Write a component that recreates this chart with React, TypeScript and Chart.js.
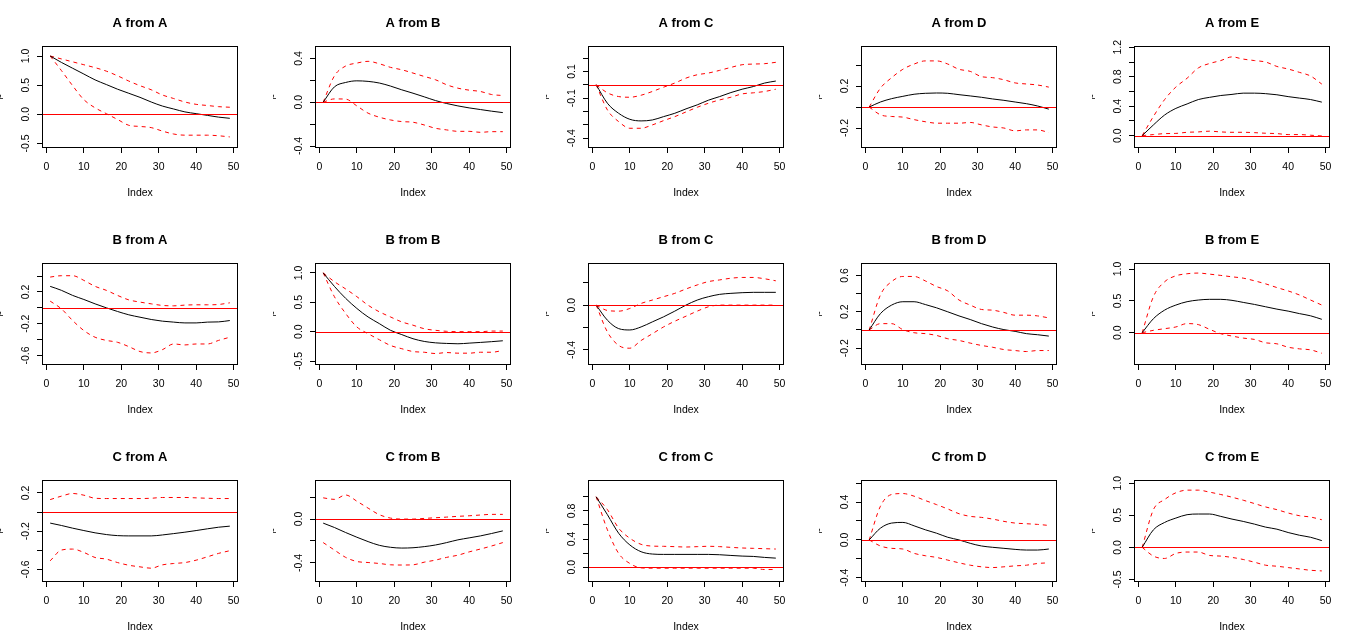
import { useEffect, useRef } from "react";
import { Chart, registerables } from "chart.js";

Chart.register(...registerables);

// Horizons at which the impulse responses are sampled
const LAGS = [1, 4, 7, 10, 13, 16, 19, 22, 25, 28, 31, 34, 37, 40, 43, 46, 49];
const X_TICKS = [0, 10, 20, 30, 40, 50];
const X_MIN = -0.92;
const X_MAX = 50.92;
const REFERENCE_LEVEL = 0;

// ---- Response of A ----
const IRF_A_A = [1.0, 0.89, 0.79, 0.69, 0.59, 0.51, 0.43, 0.36, 0.29, 0.21, 0.14, 0.09, 0.04, 0.01, -0.02, -0.05, -0.07];
const UPPER_A_A = [1.0, 0.95, 0.9, 0.85, 0.8, 0.74, 0.66, 0.57, 0.49, 0.42, 0.33, 0.27, 0.21, 0.17, 0.15, 0.13, 0.12];
const LOWER_A_A = [1.0, 0.75, 0.49, 0.25, 0.11, 0.01, -0.09, -0.19, -0.21, -0.23, -0.29, -0.34, -0.36, -0.36, -0.36, -0.37, -0.39];
const YLIM_A_A = [-0.563, 1.172];
const YTICKS_A_A = [-0.5, 0, 0.5, 1.0];
const YLABELS_A_A = ["-0.5", "0.0", "0.5", "1.0"];

const IRF_A_B = [0.0, 0.14, 0.18, 0.195, 0.19, 0.175, 0.147, 0.113, 0.082, 0.049, 0.015, -0.012, -0.034, -0.052, -0.067, -0.082, -0.095];
const UPPER_A_B = [0.0, 0.24, 0.33, 0.357, 0.373, 0.351, 0.318, 0.296, 0.266, 0.235, 0.205, 0.159, 0.128, 0.11, 0.098, 0.07, 0.061];
const LOWER_A_B = [0.0, 0.03, 0.028, -0.034, -0.1, -0.137, -0.162, -0.177, -0.183, -0.208, -0.238, -0.253, -0.266, -0.266, -0.275, -0.269, -0.269];
const YLIM_A_B = [-0.409, 0.513];
const YTICKS_A_B = [-0.4, -0.2, 0, 0.2, 0.4];
const YLABELS_A_B = ["-0.4", "", "0.0", "", "0.4"];

const IRF_A_C = [0.0, -0.138, -0.213, -0.258, -0.27, -0.263, -0.238, -0.213, -0.18, -0.15, -0.115, -0.088, -0.058, -0.033, -0.013, 0.013, 0.028];
const UPPER_A_C = [0.0, -0.06, -0.088, -0.093, -0.078, -0.05, -0.018, 0.013, 0.05, 0.075, 0.088, 0.108, 0.13, 0.15, 0.155, 0.158, 0.168];
const LOWER_A_C = [0.0, -0.188, -0.275, -0.325, -0.325, -0.3, -0.268, -0.238, -0.203, -0.168, -0.138, -0.113, -0.093, -0.068, -0.06, -0.05, -0.033];
const YLIM_A_C = [-0.465, 0.29];
const YTICKS_A_C = [-0.4, -0.3, -0.2, -0.1, 0, 0.1, 0.2];
const YLABELS_A_C = ["-0.4", "", "", "-0.1", "", "0.1", ""];

const IRF_A_D = [0.0, 0.048, 0.08, 0.102, 0.122, 0.131, 0.134, 0.131, 0.118, 0.106, 0.093, 0.077, 0.064, 0.048, 0.032, 0.01, -0.02];
const UPPER_A_D = [0.0, 0.18, 0.28, 0.36, 0.41, 0.44, 0.44, 0.41, 0.36, 0.34, 0.29, 0.28, 0.26, 0.23, 0.22, 0.21, 0.19];
const LOWER_A_D = [0.0, -0.074, -0.09, -0.096, -0.12, -0.14, -0.154, -0.154, -0.154, -0.147, -0.17, -0.19, -0.2, -0.227, -0.218, -0.218, -0.243];
const YLIM_A_D = [-0.381, 0.582];
const YTICKS_A_D = [-0.2, 0, 0.2, 0.4];
const YLABELS_A_D = ["-0.2", "", "0.2", ""];

const IRF_A_E = [0.0, 0.145, 0.28, 0.37, 0.43, 0.49, 0.52, 0.545, 0.56, 0.577, 0.577, 0.57, 0.555, 0.53, 0.51, 0.49, 0.455];
const UPPER_A_E = [0.0, 0.26, 0.49, 0.66, 0.78, 0.92, 0.98, 1.02, 1.07, 1.04, 1.02, 1.0, 0.94, 0.905, 0.86, 0.81, 0.7];
const LOWER_A_E = [0.0, 0.014, 0.027, 0.03, 0.045, 0.05, 0.06, 0.05, 0.045, 0.045, 0.04, 0.032, 0.027, 0.014, 0.014, 0.005, -0.005];
const YLIM_A_E = [-0.155, 1.218];
const YTICKS_A_E = [0, 0.2, 0.4, 0.6, 0.8, 1.0, 1.2];
const YLABELS_A_E = ["0.0", "", "0.4", "", "0.8", "", "1.2"];

// ---- Response of B ----
const IRF_B_A = [0.27, 0.22, 0.156, 0.105, 0.05, 0.0, -0.046, -0.088, -0.118, -0.147, -0.168, -0.18, -0.19, -0.19, -0.18, -0.177, -0.16];
const UPPER_B_A = [0.387, 0.404, 0.404, 0.345, 0.27, 0.22, 0.156, 0.1, 0.072, 0.05, 0.03, 0.025, 0.034, 0.038, 0.038, 0.042, 0.063];
const LOWER_B_A = [0.084, -0.013, -0.16, -0.286, -0.37, -0.41, -0.434, -0.488, -0.55, -0.568, -0.526, -0.455, -0.467, -0.455, -0.455, -0.41, -0.37];
const YLIM_B_A = [-0.707, 0.564];
const YTICKS_B_A = [-0.6, -0.4, -0.2, 0, 0.2, 0.4];
const YLABELS_B_A = ["-0.6", "", "-0.2", "", "0.2", ""];

const IRF_B_B = [1.0, 0.77, 0.567, 0.395, 0.25, 0.137, 0.023, -0.05, -0.12, -0.166, -0.19, -0.2, -0.206, -0.195, -0.183, -0.17, -0.155];
const UPPER_B_B = [1.0, 0.85, 0.727, 0.595, 0.45, 0.338, 0.25, 0.166, 0.11, 0.05, 0.023, 0.006, 0.0, 0.0, 0.0, 0.01, 0.01];
const LOWER_B_B = [1.0, 0.595, 0.31, 0.08, -0.034, -0.137, -0.235, -0.29, -0.338, -0.35, -0.372, -0.355, -0.366, -0.366, -0.35, -0.35, -0.32];
const YLIM_B_B = [-0.55, 1.168];
const YTICKS_B_B = [-0.5, 0, 0.5, 1.0];
const YLABELS_B_B = ["-0.5", "0.0", "0.5", "1.0"];

const IRF_B_C = [0.0, -0.135, -0.21, -0.222, -0.195, -0.15, -0.105, -0.054, 0.0, 0.045, 0.075, 0.096, 0.105, 0.111, 0.114, 0.114, 0.114];
const UPPER_B_C = [0.0, -0.048, -0.054, -0.03, 0.015, 0.045, 0.075, 0.105, 0.144, 0.18, 0.21, 0.225, 0.24, 0.247, 0.247, 0.235, 0.217];
const LOWER_B_C = [0.0, -0.24, -0.36, -0.385, -0.316, -0.256, -0.195, -0.144, -0.099, -0.054, -0.015, 0.0, 0.0, 0.0, 0.0, 0.0, 0.0];
const YLIM_B_C = [-0.526, 0.376];
const YTICKS_B_C = [-0.4, -0.2, 0, 0.2];
const YLABELS_B_C = ["-0.4", "", "0.0", ""];

const IRF_B_D = [0.0, 0.18, 0.274, 0.311, 0.311, 0.28, 0.244, 0.2, 0.155, 0.115, 0.07, 0.033, 0.004, -0.015, -0.04, -0.052, -0.067];
const UPPER_B_D = [0.0, 0.385, 0.533, 0.589, 0.589, 0.54, 0.478, 0.43, 0.33, 0.274, 0.226, 0.218, 0.193, 0.163, 0.163, 0.155, 0.133];
const LOWER_B_D = [0.0, 0.07, 0.07, 0.004, -0.03, -0.04, -0.06, -0.096, -0.115, -0.144, -0.17, -0.19, -0.215, -0.226, -0.237, -0.226, -0.226];
const YLIM_B_D = [-0.374, 0.737];
const YTICKS_B_D = [-0.2, 0, 0.2, 0.4, 0.6];
const YLABELS_B_D = ["-0.2", "", "0.2", "", "0.6"];

const IRF_B_E = [0.0, 0.22, 0.355, 0.434, 0.487, 0.513, 0.524, 0.524, 0.508, 0.476, 0.444, 0.407, 0.37, 0.339, 0.3, 0.265, 0.21];
const UPPER_B_E = [0.0, 0.566, 0.8, 0.894, 0.926, 0.937, 0.92, 0.9, 0.878, 0.857, 0.815, 0.767, 0.709, 0.656, 0.593, 0.513, 0.434];
const LOWER_B_E = [0.0, 0.037, 0.063, 0.09, 0.143, 0.127, 0.053, -0.016, -0.053, -0.085, -0.106, -0.159, -0.175, -0.228, -0.254, -0.27, -0.323];
const YLIM_B_E = [-0.492, 1.095];
const YTICKS_B_E = [0, 0.5, 1.0];
const YLABELS_B_E = ["0.0", "0.5", "1.0"];

// ---- Response of C ----
const IRF_C_A = [-0.116, -0.141, -0.169, -0.194, -0.218, -0.236, -0.247, -0.25, -0.25, -0.25, -0.24, -0.226, -0.211, -0.194, -0.176, -0.159, -0.148];
const UPPER_C_A = [0.13, 0.166, 0.194, 0.176, 0.144, 0.141, 0.141, 0.141, 0.141, 0.144, 0.152, 0.152, 0.152, 0.148, 0.144, 0.141, 0.141];
const LOWER_C_A = [-0.511, -0.398, -0.388, -0.423, -0.476, -0.493, -0.529, -0.557, -0.574, -0.588, -0.553, -0.539, -0.529, -0.504, -0.469, -0.433, -0.405];
const YLIM_C_A = [-0.722, 0.335];
const YTICKS_C_A = [-0.6, -0.4, -0.2, 0, 0.2];
const YLABELS_C_A = ["-0.6", "", "-0.2", "", "0.2"];

const IRF_C_B = [-0.037, -0.077, -0.123, -0.166, -0.206, -0.24, -0.258, -0.265, -0.262, -0.252, -0.237, -0.215, -0.19, -0.172, -0.154, -0.132, -0.108];
const UPPER_C_B = [0.194, 0.18, 0.22, 0.163, 0.1, 0.04, 0.009, 0.0, 0.0, 0.006, 0.012, 0.018, 0.025, 0.03, 0.037, 0.043, 0.043];
const LOWER_C_B = [-0.215, -0.283, -0.35, -0.388, -0.397, -0.406, -0.418, -0.42, -0.418, -0.394, -0.375, -0.35, -0.33, -0.3, -0.274, -0.246, -0.215];
const YLIM_C_B = [-0.566, 0.357];
const YTICKS_C_B = [-0.4, -0.2, 0, 0.2];
const YLABELS_C_B = ["-0.4", "", "0.0", ""];

const IRF_C_C = [1.0, 0.746, 0.483, 0.316, 0.22, 0.187, 0.182, 0.182, 0.182, 0.182, 0.182, 0.177, 0.167, 0.158, 0.153, 0.139, 0.129];
const UPPER_C_C = [1.0, 0.818, 0.555, 0.411, 0.325, 0.3, 0.297, 0.292, 0.287, 0.292, 0.297, 0.292, 0.282, 0.273, 0.268, 0.263, 0.258];
const LOWER_C_C = [1.0, 0.531, 0.196, 0.053, -0.01, -0.014, -0.014, -0.014, -0.014, -0.014, -0.014, -0.014, -0.014, -0.014, -0.014, -0.033, -0.033];
const YLIM_C_C = [-0.196, 1.239];
const YTICKS_C_C = [0, 0.2, 0.4, 0.6, 0.8, 1.0];
const YLABELS_C_C = ["0.0", "", "0.4", "", "0.8", ""];

const IRF_C_D = [0.0, 0.124, 0.178, 0.185, 0.149, 0.107, 0.071, 0.028, 0.0, -0.036, -0.064, -0.078, -0.089, -0.1, -0.107, -0.107, -0.096];
const UPPER_C_D = [0.0, 0.356, 0.48, 0.49, 0.462, 0.416, 0.373, 0.327, 0.277, 0.249, 0.238, 0.22, 0.196, 0.178, 0.171, 0.164, 0.153];
const LOWER_C_D = [0.0, -0.064, -0.089, -0.096, -0.142, -0.167, -0.185, -0.213, -0.242, -0.267, -0.284, -0.292, -0.284, -0.274, -0.267, -0.249, -0.242];
const YLIM_C_D = [-0.434, 0.633];
const YTICKS_C_D = [-0.4, -0.2, 0, 0.2, 0.4, 0.6];
const YLABELS_C_D = ["-0.4", "", "0.0", "", "0.4", ""];

const IRF_C_E = [0.0, 0.273, 0.388, 0.456, 0.509, 0.519, 0.519, 0.482, 0.44, 0.404, 0.362, 0.315, 0.283, 0.231, 0.189, 0.157, 0.105];
const UPPER_C_E = [0.0, 0.587, 0.745, 0.85, 0.891, 0.891, 0.86, 0.823, 0.781, 0.734, 0.682, 0.629, 0.587, 0.535, 0.493, 0.472, 0.43];
const LOWER_C_E = [0.0, -0.136, -0.173, -0.094, -0.073, -0.073, -0.126, -0.136, -0.157, -0.189, -0.231, -0.278, -0.294, -0.315, -0.336, -0.357, -0.367];
const YLIM_C_E = [-0.524, 1.049];
const YTICKS_C_E = [-0.5, 0, 0.5, 1.0];
const YLABELS_C_E = ["-0.5", "0.0", "0.5", "1.0"];

type Panel = {
  title: string;
  irf: number[];
  upper: number[];
  lower: number[];
  ylim: number[];
  yTicks: number[];
  yLabels: string[];
};

const PANELS: Panel[][] = [
  [
    { title: "A from A", irf: IRF_A_A, upper: UPPER_A_A, lower: LOWER_A_A, ylim: YLIM_A_A, yTicks: YTICKS_A_A, yLabels: YLABELS_A_A },
    { title: "A from B", irf: IRF_A_B, upper: UPPER_A_B, lower: LOWER_A_B, ylim: YLIM_A_B, yTicks: YTICKS_A_B, yLabels: YLABELS_A_B },
    { title: "A from C", irf: IRF_A_C, upper: UPPER_A_C, lower: LOWER_A_C, ylim: YLIM_A_C, yTicks: YTICKS_A_C, yLabels: YLABELS_A_C },
    { title: "A from D", irf: IRF_A_D, upper: UPPER_A_D, lower: LOWER_A_D, ylim: YLIM_A_D, yTicks: YTICKS_A_D, yLabels: YLABELS_A_D },
    { title: "A from E", irf: IRF_A_E, upper: UPPER_A_E, lower: LOWER_A_E, ylim: YLIM_A_E, yTicks: YTICKS_A_E, yLabels: YLABELS_A_E },
  ],
  [
    { title: "B from A", irf: IRF_B_A, upper: UPPER_B_A, lower: LOWER_B_A, ylim: YLIM_B_A, yTicks: YTICKS_B_A, yLabels: YLABELS_B_A },
    { title: "B from B", irf: IRF_B_B, upper: UPPER_B_B, lower: LOWER_B_B, ylim: YLIM_B_B, yTicks: YTICKS_B_B, yLabels: YLABELS_B_B },
    { title: "B from C", irf: IRF_B_C, upper: UPPER_B_C, lower: LOWER_B_C, ylim: YLIM_B_C, yTicks: YTICKS_B_C, yLabels: YLABELS_B_C },
    { title: "B from D", irf: IRF_B_D, upper: UPPER_B_D, lower: LOWER_B_D, ylim: YLIM_B_D, yTicks: YTICKS_B_D, yLabels: YLABELS_B_D },
    { title: "B from E", irf: IRF_B_E, upper: UPPER_B_E, lower: LOWER_B_E, ylim: YLIM_B_E, yTicks: YTICKS_B_E, yLabels: YLABELS_B_E },
  ],
  [
    { title: "C from A", irf: IRF_C_A, upper: UPPER_C_A, lower: LOWER_C_A, ylim: YLIM_C_A, yTicks: YTICKS_C_A, yLabels: YLABELS_C_A },
    { title: "C from B", irf: IRF_C_B, upper: UPPER_C_B, lower: LOWER_C_B, ylim: YLIM_C_B, yTicks: YTICKS_C_B, yLabels: YLABELS_C_B },
    { title: "C from C", irf: IRF_C_C, upper: UPPER_C_C, lower: LOWER_C_C, ylim: YLIM_C_C, yTicks: YTICKS_C_C, yLabels: YLABELS_C_C },
    { title: "C from D", irf: IRF_C_D, upper: UPPER_C_D, lower: LOWER_C_D, ylim: YLIM_C_D, yTicks: YTICKS_C_D, yLabels: YLABELS_C_D },
    { title: "C from E", irf: IRF_C_E, upper: UPPER_C_E, lower: LOWER_C_E, ylim: YLIM_C_E, yTicks: YTICKS_C_E, yLabels: YLABELS_C_E },
  ],
];

const FONT_FAMILY = '"Liberation Sans", Arial, Helvetica, sans-serif';
const RED = "#FF0000";
const CELL_W = 273;
const CELL_H = 217;
const CANVAS_W = 273;
const CANVAS_H = 216;

// Draws the plot frame, the zero reference line, main title and axis annotations
const rFrame = {
  id: "rFrame",
  afterDatasetsDraw(chart: any, _args: any, opts: any) {
    const { ctx, chartArea: a, scales } = chart;
    const ys = scales.y;
    ctx.save();
    // horizontal reference line
    const yRef = Math.round(ys.getPixelForValue(opts.reference)) + 0.5;
    ctx.strokeStyle = RED;
    ctx.lineWidth = 1;
    ctx.setLineDash([]);
    ctx.beginPath();
    ctx.moveTo(a.left, yRef);
    ctx.lineTo(a.right, yRef);
    ctx.stroke();
    // box around the plotting region
    const l = Math.round(a.left) - 0.5;
    const r = Math.round(a.right) + 0.5;
    const t = Math.round(a.top) + 0.5;
    const b = Math.round(a.bottom) + 0.5;
    ctx.strokeStyle = "#000";
    ctx.strokeRect(l, t, r - l, b - t);
    ctx.restore();
  },
  afterDraw(chart: any, _args: any, opts: any) {
    const { ctx, chartArea: a, scales } = chart;
    const ys = scales.y;
    const cx = (a.left + a.right) / 2;
    const cy = (a.top + a.bottom) / 2;
    ctx.save();
    ctx.fillStyle = "#000";
    ctx.textAlign = "center";
    ctx.textBaseline = "alphabetic";
    ctx.font = `bold 13px ${FONT_FAMILY}`;
    ctx.fillText(opts.title, cx, a.top - 19);
    ctx.font = `10.5px ${FONT_FAMILY}`;
    ctx.fillText("Index", cx, a.bottom + 49);
    // rotated y-axis title
    ctx.save();
    ctx.translate(a.left - 42, cy);
    ctx.rotate(-Math.PI / 2);
    ctx.fillText("p", 0, 0);
    ctx.restore();
    // rotated y tick labels
    opts.yTicks.forEach((v: number, i: number) => {
      const label = opts.yLabels[i];
      if (!label) return;
      const py = ys.getPixelForValue(v);
      ctx.save();
      ctx.translate(a.left - 14, py);
      ctx.rotate(-Math.PI / 2);
      ctx.fillText(label, 0, 0);
      ctx.restore();
    });
    ctx.restore();
  },
};

function toPoints(values: number[]) {
  return LAGS.map((lag, i) => ({ x: lag, y: values[i] }));
}

function PanelChart({ panel, left, top }: { panel: Panel; left: number; top: number }) {
  const ref = useRef<HTMLCanvasElement | null>(null);

  useEffect(() => {
    if (!ref.current) return;
    const chart = new Chart(ref.current, {
      type: "line",
      data: {
        datasets: [
          {
            label: "irf",
            data: toPoints(panel.irf),
            borderColor: "#000",
            borderWidth: 1,
          },
          {
            label: "upper",
            data: toPoints(panel.upper),
            borderColor: RED,
            borderWidth: 1,
            borderDash: [4, 4],
          },
          {
            label: "lower",
            data: toPoints(panel.lower),
            borderColor: RED,
            borderWidth: 1,
            borderDash: [4, 4],
          },
        ],
      },
      options: {
        animation: false,
        responsive: false,
        devicePixelRatio: 1,
        events: [],
        layout: { padding: { left: 0, top: 46, right: 36, bottom: 0 } },
        elements: {
          point: { radius: 0 },
          line: { cubicInterpolationMode: "monotone", fill: false },
        },
        plugins: {
          legend: { display: false },
          title: { display: false },
          tooltip: { enabled: false },
          rFrame: {
            title: panel.title,
            reference: REFERENCE_LEVEL,
            yTicks: panel.yTicks,
            yLabels: panel.yLabels,
          },
        } as any,
        scales: {
          x: {
            type: "linear",
            min: X_MIN,
            max: X_MAX,
            afterBuildTicks: (s: any) => {
              s.ticks = X_TICKS.map((v) => ({ value: v }));
            },
            afterFit: (s: any) => {
              s.height = CANVAS_H - 147;
            },
            grid: {
              display: true,
              drawOnChartArea: false,
              drawTicks: true,
              tickLength: 6,
              color: "#000",
              lineWidth: 1,
            },
            border: { display: false },
            ticks: {
              autoSkip: false,
              maxRotation: 0,
              minRotation: 0,
              padding: 8,
              color: "#000",
              font: { family: FONT_FAMILY, size: 10.5 },
              callback: (v: any) => String(v),
            },
          },
          y: {
            type: "linear",
            min: panel.ylim[0],
            max: panel.ylim[1],
            afterBuildTicks: (s: any) => {
              s.ticks = panel.yTicks.map((v) => ({ value: v }));
            },
            afterFit: (s: any) => {
              s.width = 43;
            },
            grid: {
              display: true,
              drawOnChartArea: false,
              drawTicks: true,
              tickLength: 6,
              color: "#000",
              lineWidth: 1,
            },
            border: { display: false },
            ticks: { display: false },
          },
        },
      } as any,
      plugins: [rFrame],
    });
    return () => chart.destroy();
  }, [panel]);

  return (
    <canvas
      ref={ref}
      width={CANVAS_W}
      height={CANVAS_H}
      style={{ position: "absolute", left, top, width: CANVAS_W, height: CANVAS_H }}
    />
  );
}

export default function App() {
  return (
    <div
      style={{
        position: "absolute",
        left: 0,
        top: 0,
        width: 1355,
        height: 640,
        overflow: "hidden",
        background: "#fff",
      }}
    >
      {PANELS.map((row, r) =>
        row.map((panel, c) => (
          <PanelChart key={panel.title} panel={panel} left={c * CELL_W} top={r * CELL_H} />
        ))
      )}
    </div>
  );
}
